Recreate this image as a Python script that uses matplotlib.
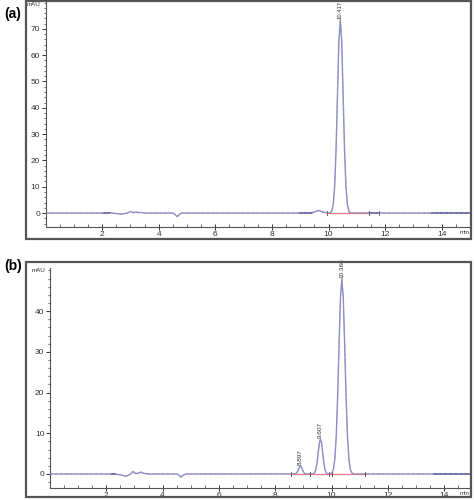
import matplotlib.pyplot as plt
from matplotlib.patches import Rectangle
from matplotlib.ticker import MultipleLocator

plt.rcParams['font.family'] = ['Liberation Sans', 'DejaVu Sans']

# chromatogram (a): retention time (min) vs signal (mAU)
t_a = [0.0, 2.05, 2.1, 2.3, 2.5, 2.7, 2.85, 2.95, 3.02, 3.1, 3.2, 3.28, 3.38, 3.5,
       4.5, 4.58, 4.65, 4.72, 4.8, 9.35, 9.5, 9.65, 9.8, 9.95,
       10.017, 10.067, 10.117, 10.167, 10.217, 10.267, 10.317, 10.367, 10.417,
       10.467, 10.517, 10.567, 10.617, 10.667, 10.717, 10.767, 10.817, 15.1]
y_a = [0.0, 0.0, 0.15, 0.1, -0.2, -0.4, -0.1, 0.3, 0.6, 0.1, 0.4, 0.15, 0.2, 0.0,
       0.0, -0.6, -1.4, -0.6, 0.0, 0.0, 0.4, 1.0, 0.4, 0.05,
       0.0, 0.16, 0.82, 3.25, 10.0, 24.0, 44.9, 65.3, 73.5,
       65.3, 44.9, 24.0, 10.0, 3.25, 0.82, 0.16, 0.0, 0.0]
rt_a = [10.417]
apex_a = [73.5]
yticks_a = [0, 10, 20, 30, 40, 50, 60, 70]

# chromatogram (b)
t_b = [0.0, 2.15, 2.2, 2.4, 2.55, 2.7, 2.85, 2.95, 3.05, 3.15, 3.22, 3.3, 3.5,
       4.5, 4.58, 4.65, 4.72, 4.85,
       8.697, 8.737, 8.777, 8.817, 8.857, 8.897, 8.937, 8.977, 9.017, 9.057, 9.097,
       9.327, 9.367, 9.407, 9.447, 9.487, 9.527, 9.567, 9.607, 9.647, 9.687,
       9.727, 9.767, 9.807, 9.847, 9.887,
       9.968, 10.018, 10.068, 10.118, 10.168, 10.218, 10.268, 10.318, 10.368,
       10.418, 10.468, 10.518, 10.568, 10.618, 10.668, 10.718, 10.768, 10.818, 15.1]
y_b = [0.0, 0.0, 0.1, -0.1, -0.3, -0.55, -0.1, 0.6, 0.1, 0.2, 0.5, 0.2, 0.0,
       0.0, -0.3, -0.8, -0.3, 0.0,
       0.02, 0.10, 0.36, 0.94, 1.66, 2.0, 1.66, 0.94, 0.36, 0.10, 0.02,
       0.02, 0.10, 0.38, 1.16, 2.79, 5.22, 7.59, 8.6, 7.59, 5.22,
       2.79, 1.16, 0.38, 0.10, 0.02,
       0.06, 0.31, 1.17, 3.63, 9.19, 18.94, 31.75, 43.3, 48.0,
       43.3, 31.75, 18.94, 9.19, 3.63, 1.17, 0.31, 0.06, 0.0, 0.0]
rt_b = [8.897, 9.607, 10.368]
apex_b = [2.0, 8.6, 48.0]
yticks_b = [0, 10, 20, 30, 40]

xticks = [2, 4, 6, 8, 10, 12, 14]

trace = "#8a8ad2"
dark = "#5c5ca8"
grey = "#555555"

fig = plt.figure(figsize=(4.74, 5.0), dpi=100)
W, H = 474.0, 500.0


def px_box(x0, y0, x1, y1):
    # pixel box (top-left origin) -> figure fraction rect
    return [x0 / W, 1 - y1 / H, (x1 - x0) / W, (y1 - y0) / H]


def panel(rect, frame, t, y, rts, apexes, ylim, yticks, xmax, base, marks, darks,
          label, label_y, lab_fs):
    fig.add_artist(Rectangle((frame[0] / W, 1 - frame[3] / H),
                             (frame[2] - frame[0]) / W, (frame[3] - frame[1]) / H,
                             transform=fig.transFigure, fill=False,
                             edgecolor=grey, lw=1.6))
    fig.text(4 / W, 1 - label_y / H, label, fontsize=10, fontweight="bold",
             va="center", ha="left")
    ax = fig.add_axes(rect)
    ax.plot(t, y, color=trace, lw=1.0, zorder=2)
    # darker overlapped baseline pieces
    for a, b in darks:
        ax.plot([a, b], [0, 0], color=dark, lw=1.1, zorder=3)
    # integration baseline
    ax.plot(base, [0, 0], color="#e07a8a", lw=0.9, zorder=3)
    for m in marks:
        ax.plot([m, m], [-ylim[1] * 0.008, ylim[1] * 0.008], color="#444", lw=0.6, zorder=4)
    # dashed look on the peaks
    ax.plot(t, y, color="#9a9aaa", lw=0.6, ls=(0, (3, 3)), zorder=4)
    for r, h in zip(rts, apexes):
        ax.text(r, h + ylim[1] * 0.004, f"{r:.3f}", rotation=90, fontsize=lab_fs,
                ha="center", va="bottom", color="#333333")
    ax.set_xlim(0, xmax)
    ax.set_ylim(*ylim)
    for s in ["top", "right"]:
        ax.spines[s].set_visible(False)
    for s in ["left", "bottom"]:
        ax.spines[s].set_color(grey)
        ax.spines[s].set_linewidth(0.8)
    ax.set_xticks(xticks)
    ax.xaxis.set_minor_locator(MultipleLocator(0.5))
    ax.set_yticks(yticks)
    ax.yaxis.set_minor_locator(MultipleLocator(2))
    ax.tick_params(axis="x", which="major", direction="inout", length=5, width=0.7,
                   labelsize=6, colors="#333333", pad=0.5)
    ax.tick_params(axis="x", which="minor", direction="in", length=2.5, width=0.6,
                   colors="#555555")
    ax.tick_params(axis="y", which="major", direction="out", length=3, width=0.7,
                   labelsize=6, colors="#333333", pad=1)
    ax.tick_params(axis="y", which="minor", direction="out", length=1.5, width=0.6,
                   colors="#555555")
    ax.text(-0.012, 1.0, "mAU", transform=ax.transAxes, fontsize=4.5, ha="right",
            va="top", color="#333333")
    ax.text(xmax - 0.05, -0.015, "min", transform=ax.get_xaxis_transform(),
            fontsize=4.5, ha="right", va="top", color="#333333")
    ax.patch.set_alpha(0)
    return ax


panel(px_box(45.5, 2, 471, 227), (26, 1, 471, 239), t_a, y_a, rt_a, apex_a,
      (-5.3, 80.2), yticks_a, (471 - 45.5) / 28.3, [9.98, 11.43], [9.95, 11.43, 11.8],
      [(2.05, 2.25), (9.0, 9.4), (11.43, 11.8), (13.65, 15.1)], "(a)", 14, 4.2)

panel(px_box(50, 268, 471, 488), (26, 262, 471, 497), t_b, y_b, rt_b, apex_b,
      (-3.44, 50.6), yticks_b, (471 - 50) / 28.15, [8.55, 11.2],
      [8.55, 9.25, 9.9, 10.0, 11.2],
      [(2.15, 2.3), (13.65, 15.1)], "(b)", 266, 4.6)

fig.savefig("out.png", dpi=100)
